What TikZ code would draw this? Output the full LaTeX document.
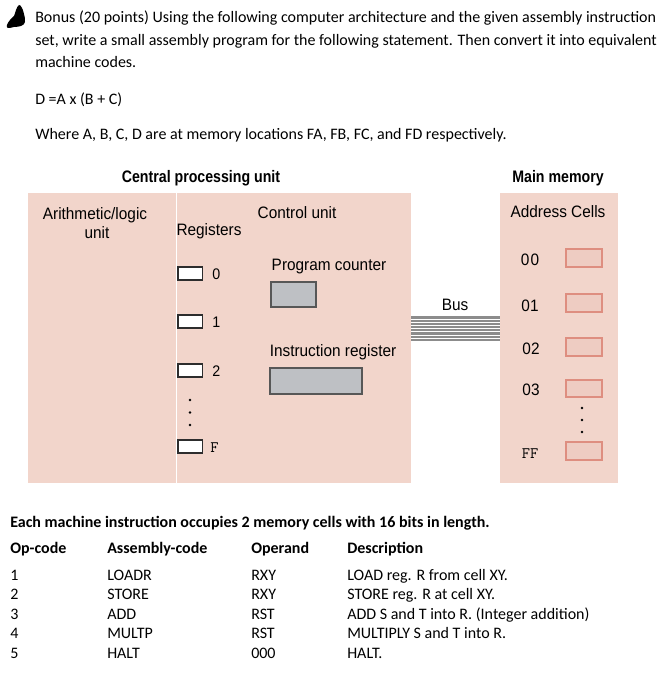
\documentclass[tikz,border=0pt]{standalone}
\usepackage{fontspec}
\setmainfont{Carlito}
\newfontfamily\cpufont{Liberation Sans}[FakeStretch=0.93]
\newfontfamily\cpuboldfont{Liberation Sans}[FakeStretch=0.85]
\usetikzlibrary{positioning}

\definecolor{panelpink}{RGB}{242,213,203}
\definecolor{cellpink}{RGB}{238,204,194}
\definecolor{celledge}{RGB}{222,142,128}
\definecolor{regedge}{RGB}{45,45,45}
\definecolor{pcgrey}{RGB}{190,192,196}
\definecolor{busgrey}{RGB}{140,140,140}

\begin{document}
\begin{tikzpicture}[
        x=0.75pt, y=-0.75pt,
        txt/.style={anchor=base west, inner sep=0pt, font=\fontsize{12}{14}\selectfont},
        txtbold/.style={txt, font=\fontsize{12}{14}\selectfont\bfseries},
        cpulabel/.style={anchor=base, inner sep=0pt, font=\cpufont\fontsize{12.4}{14}\selectfont},
        cputitle/.style={anchor=base, inner sep=0pt, font=\cpuboldfont\bfseries\fontsize{12.5}{14}\selectfont},
        reglabel/.style={anchor=base west, inner sep=0pt, font=\cpufont\fontsize{11.5}{13}\selectfont},
        monolabel/.style={anchor=base west, inner sep=0pt, font=\ttfamily\fontsize{12}{13}\selectfont},
        regbox/.style={draw=regedge, fill=white, line width=1.3pt},
        cellbox/.style={draw=celledge, fill=cellpink, line width=0.9pt},
        greybox/.style={draw=regedge!80, fill=pcgrey, line width=1.2pt},
        dotmark/.style={fill=black, circle, inner sep=0pt, minimum size=2.2pt}
    ]
    \useasboundingbox (0,0) rectangle (671,674);

    % Question text
    \fill[black] plot[smooth cycle, tension=0.7] coordinates {(19,5) (22,8) (24,14) (25,22) (21,26) (14,27) (8,28) (7,25) (10,20) (14,16) (16,10)};
    \node[txt] (q1) at (35,23) {Bonus (20 points) Using the following computer architecture and the given assembly instruction};
    \node[txt] (q2) at (35,46) {set, write a small assembly program for the following statement. Then convert it into equivalent};
    \node[txt] (q3) at (35,68) {machine codes.};
    \node[txt] (expr) at (35,104) {D =A x (B + C)};
    \node[txt] (where) at (35,139) {Where A, B, C, D are at memory locations FA, FB, FC, and FD respectively.};

    % Panels
    \fill[panelpink] (28,193) rectangle (175.5,483);
    \fill[panelpink] (177,193) rectangle (411,483);
    \fill[panelpink] (500,193) rectangle (618,483);

    \node[cputitle] (cpu) at (201,182) {Central processing unit};
    \node[cputitle] (mem) at (558,182) {Main memory};

    \node[cpulabel] (alu) at (95,219) {Arithmetic/logic};
    \node[cpulabel] (alu2) at (97,238) {unit};
    \node[cpulabel] (regs) at (209,235) {Registers};
    \node[cpulabel] (cu) at (297,218) {Control unit};
    \node[cpulabel] (pc) at (329,270) {Program counter};
    \node[cpulabel] (ir) at (333,356) {Instruction register};
    \node[cpulabel] (bus) at (455,310) {Bus};
    \node[cpulabel] (addr) at (558,217) {Address Cells};

    % Registers
    \draw[regbox] (178,267) rectangle (202.5,280);
    \draw[regbox] (178,315) rectangle (202.5,328);
    \draw[regbox] (178,364) rectangle (202.5,377);
    \draw[regbox] (178,440) rectangle (202.5,453);
    \node[reglabel] (r0) at (212,279) {0};
    \node[reglabel] (r1) at (212,327) {1};
    \node[reglabel] (r2) at (212,376) {2};
    \node[monolabel] (rf) at (210,452) {F};
    \node[dotmark] (rd1) at (190,400) {};
    \node[dotmark] (rd2) at (190,412.5) {};
    \node[dotmark] (rd3) at (190,425) {};

    % Program counter and instruction register
    \draw[greybox] (271,282) rectangle (316,307);
    \draw[greybox] (270,368) rectangle (362,394);

    % Bus
    \foreach \y in {317.5,320.7,...,343} {
        \draw[busgrey, line width=1.6pt] (411,\y) -- (500,\y);
    }

    % Memory cells
    \draw[cellbox] (566,249) rectangle (602,267);
    \draw[cellbox] (566,294) rectangle (602,312);
    \draw[cellbox] (566,338) rectangle (602,356);
    \draw[cellbox] (566,380) rectangle (602,397);
    \draw[cellbox] (566,442) rectangle (602,460);
    \node[cpulabel] (a00) at (530,265) {0\kern1pt0};
    \node[cpulabel] (a01) at (530,311) {01};
    \node[cpulabel] (a02) at (531,354) {02};
    \node[cpulabel] (a03) at (531,395) {03};
    \node[monolabel, anchor=base] (aff) at (530,458) {FF};
    \node[dotmark] (md1) at (582,408) {};
    \node[dotmark] (md2) at (582,420) {};
    \node[dotmark] (md3) at (582,432) {};

    % Instruction table
    \node[txtbold] (note) at (10,527) {Each machine instruction occupies 2 memory cells with 16 bits in length.};
    \node[txtbold] (hop) at (10,553) {Op-code};
    \node[txtbold] (hasm) at (107,553) {Assembly-code};
    \node[txtbold] (hopd) at (251,553) {Operand};
    \node[txtbold] (hdesc) at (347,553) {Description};

    \node[txt] (op1) at (10,580) {1};
    \node[txt] (asm1) at (107,580) {LOADR};
    \node[txt] (opd1) at (251,580) {RXY};
    \node[txt] (desc1) at (347,580) {LOAD reg. R from cell XY.};

    \node[txt] (op2) at (10,599.5) {2};
    \node[txt] (asm2) at (107,599.5) {STORE};
    \node[txt] (opd2) at (251,599.5) {RXY};
    \node[txt] (desc2) at (347,599.5) {STORE reg. R at cell XY.};

    \node[txt] (op3) at (10,619) {3};
    \node[txt] (asm3) at (107,619) {ADD};
    \node[txt] (opd3) at (251,619) {RST};
    \node[txt] (desc3) at (347,619) {ADD S and T into R. (Integer addition)};

    \node[txt] (op4) at (10,638.5) {4};
    \node[txt] (asm4) at (107,638.5) {MULTP};
    \node[txt] (opd4) at (251,638.5) {RST};
    \node[txt] (desc4) at (347,638.5) {MULTIPLY S and T into R.};

    \node[txt] (op5) at (10,658) {5};
    \node[txt] (asm5) at (107,658) {HALT};
    \node[txt] (opd5) at (251,658) {000};
    \node[txt] (desc5) at (347,658) {HALT.};

\end{tikzpicture}
\end{document}
